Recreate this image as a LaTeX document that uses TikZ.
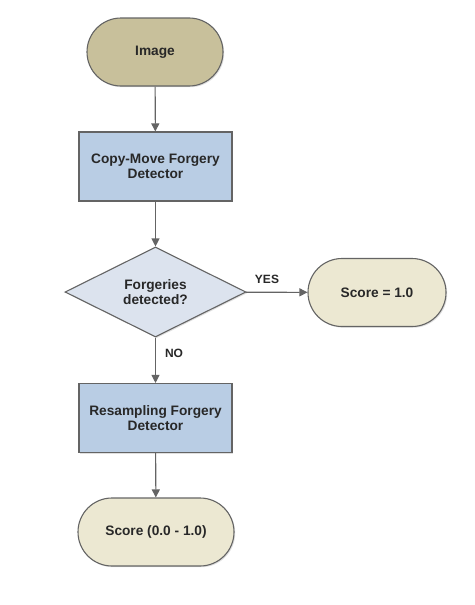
\documentclass[tikz,border=0pt]{standalone}
\usepackage{fontspec}
\setmainfont{Liberation Sans}
\usetikzlibrary{shapes.geometric,shapes.misc,arrows.meta,shadows}
\definecolor{imgfill}{RGB}{200,192,155}
\definecolor{scorefill}{RGB}{236,232,210}
\definecolor{boxfill}{RGB}{185,205,228}
\definecolor{diafill}{RGB}{220,227,238}
\definecolor{edgegray}{RGB}{100,100,100}
\definecolor{txt}{RGB}{40,40,40}
\begin{document}
\begin{tikzpicture}[x=1pt,y=-1pt,
  base/.style={draw=edgegray,line width=1.1pt,text=txt,font=\fontsize{13.7}{15}\selectfont\bfseries,align=center,inner sep=0pt,
    drop shadow={shadow xshift=1.2pt,shadow yshift=-1.2pt,opacity=0.25}},
  term/.style={base,rounded rectangle,minimum width=#1,minimum height=68pt},
  procbox/.style={base,rectangle,minimum width=153pt,minimum height=69pt,fill=boxfill},
  decision/.style={base,diamond,aspect=2.01,minimum width=181pt,minimum height=90pt,fill=diafill},
  conn/.style={draw=edgegray,line width=1.1pt,-{Triangle[length=8pt,width=8pt]}},
  lbl/.style={font=\fontsize{12}{14}\selectfont\bfseries,text=txt,inner sep=0pt}]
\useasboundingbox[fill=white] (0,0) rectangle (474,605);
\node[term=136pt,fill=imgfill] (img) at (155,52) {Image};
\node[procbox] (cm) at (155.5,166.5) {Copy-Move Forgery\\Detector};
\node[decision] (dec) at (155.5,292) {Forgeries\\detected?};
\node[term=138pt,fill=scorefill] (s1) at (377,292.5) {Score = 1.0};
\node[procbox] (rs) at (155.5,418) {Resampling Forgery\\Detector};
\node[term=156pt,fill=scorefill] (s2) at (156,532) {Score (0.0 - 1.0)};
\draw[conn] (img) -- (cm);
\draw[conn] (cm) -- (dec);
\draw[conn] (dec) -- node[lbl,pos=0.34,above=8pt]{YES} (s1);
\draw[conn] (dec) -- node[lbl,pos=0.35,right=9pt]{NO} (rs);
\draw[conn] (rs) -- (s2);
\end{tikzpicture}
\end{document}
